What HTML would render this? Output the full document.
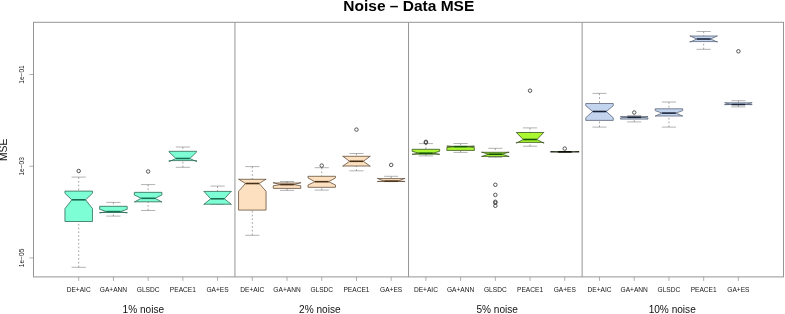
<!DOCTYPE html><html><head><meta charset="utf-8"><title>Noise - Data MSE</title>
<style>html,body{margin:0;padding:0;background:#fff;width:785px;height:314px;overflow:hidden}svg{display:block}text{font-family:"Liberation Sans",Arial,sans-serif}</style></head><body>
<svg width="785" height="314" viewBox="0 0 785 314">
<style>.wh{stroke:#7a7a7a;stroke-width:0.7;stroke-dasharray:1.7 2.1}.st{stroke:#8a8a8a;stroke-width:0.65}.ol{fill:none;stroke:#3a3a3a;stroke-width:0.85}.fr{stroke:#959595;stroke-width:1;fill:none}.tk{stroke:#9a9a9a;stroke-width:0.8}.lb{fill:#151515}</style>
<rect width="785" height="314" fill="#fff"/>
<text x="408.8" y="11.15" font-size="15.5" font-weight="bold" text-anchor="middle" fill="#000">Noise – Data MSE</text>
<text transform="translate(6.9,149.9) rotate(-90)" font-size="10.3" text-anchor="middle" fill="#111">MSE</text>
<line x1="78.7" y1="177.1" x2="78.7" y2="191.1" class="wh"/><line x1="78.7" y1="267.3" x2="78.7" y2="221.5" class="wh"/><line x1="71.6" y1="177.1" x2="85.8" y2="177.1" class="st"/><line x1="71.6" y1="267.3" x2="85.8" y2="267.3" class="st"/><polygon points="64.95,221.5 92.45,221.5 92.45,208.6 85.58,199.8 92.45,193.3 92.45,191.1 64.95,191.1 64.95,193.3 71.83,199.8 64.95,208.6" fill="#7efed4" stroke="#2f6a56" stroke-width="0.8" stroke-linejoin="miter"/><line x1="71.83" y1="199.8" x2="85.58" y2="199.8" stroke="#1a6e50" stroke-width="1.6"/><circle cx="78.7" cy="171" r="1.75" class="ol"/>
<line x1="113.42" y1="202.4" x2="113.42" y2="206.3" class="wh"/><line x1="113.42" y1="216.1" x2="113.42" y2="212.5" class="wh"/><line x1="106.32" y1="202.4" x2="120.52" y2="202.4" class="st"/><line x1="106.32" y1="216.1" x2="120.52" y2="216.1" class="st"/><polygon points="99.67,212.5 127.17,212.5 127.17,213 120.3,211.6 127.17,209.3 127.17,206.3 99.67,206.3 99.67,209.3 106.55,211.6 99.67,213" fill="#7efed4" stroke="#2f6a56" stroke-width="0.8" stroke-linejoin="miter"/><line x1="106.55" y1="211.6" x2="120.3" y2="211.6" stroke="#1a6e50" stroke-width="1.6"/>
<line x1="148.14" y1="184.6" x2="148.14" y2="192.35" class="wh"/><line x1="148.14" y1="210.5" x2="148.14" y2="201.8" class="wh"/><line x1="141.04" y1="184.6" x2="155.24" y2="184.6" class="st"/><line x1="141.04" y1="210.5" x2="155.24" y2="210.5" class="st"/><polygon points="134.39,201.8 161.89,201.8 161.89,202 155.01,198.3 161.89,195 161.89,192.35 134.39,192.35 134.39,195 141.26,198.3 134.39,202" fill="#7efed4" stroke="#2f6a56" stroke-width="0.8" stroke-linejoin="miter"/><line x1="141.26" y1="198.3" x2="155.01" y2="198.3" stroke="#1a6e50" stroke-width="1.6"/><circle cx="148.14" cy="171.5" r="1.75" class="ol"/>
<line x1="182.86" y1="147" x2="182.86" y2="151.3" class="wh"/><line x1="182.86" y1="167.3" x2="182.86" y2="160.6" class="wh"/><line x1="175.76" y1="147" x2="189.96" y2="147" class="st"/><line x1="175.76" y1="167.3" x2="189.96" y2="167.3" class="st"/><polygon points="169.11,160.6 196.61,160.6 196.61,161.6 189.74,158.5 196.61,152.1 196.61,151.3 169.11,151.3 169.11,152.1 175.99,158.5 169.11,161.6" fill="#7efed4" stroke="#2f6a56" stroke-width="0.8" stroke-linejoin="miter"/><line x1="175.99" y1="158.5" x2="189.74" y2="158.5" stroke="#1a6e50" stroke-width="1.6"/>
<line x1="217.58" y1="186.1" x2="217.58" y2="191.4" class="wh"/><line x1="210.48" y1="186.1" x2="224.68" y2="186.1" class="st"/><line x1="210.48" y1="204.2" x2="224.68" y2="204.2" class="st"/><polygon points="203.83,204.2 231.33,204.2 231.33,204.4 224.45,198.8 231.33,191.2 231.33,191.4 203.83,191.4 203.83,191.2 210.7,198.8 203.83,204.4" fill="#7efed4" stroke="#2f6a56" stroke-width="0.8" stroke-linejoin="miter"/><line x1="210.7" y1="198.8" x2="224.45" y2="198.8" stroke="#1a6e50" stroke-width="1.6"/>
<line x1="252.3" y1="166.6" x2="252.3" y2="179.3" class="wh"/><line x1="252.3" y1="235.3" x2="252.3" y2="210.1" class="wh"/><line x1="245.2" y1="166.6" x2="259.4" y2="166.6" class="st"/><line x1="245.2" y1="235.3" x2="259.4" y2="235.3" class="st"/><polygon points="238.55,210.1 266.05,210.1 266.05,191.3 259.18,183.5 266.05,179.1 266.05,179.3 238.55,179.3 238.55,179.1 245.43,183.5 238.55,191.3" fill="#fde0bf" stroke="#64503c" stroke-width="0.8" stroke-linejoin="miter"/><line x1="245.43" y1="183.5" x2="259.18" y2="183.5" stroke="#4a3018" stroke-width="1.6"/>
<line x1="287.02" y1="181.5" x2="287.02" y2="183" class="wh"/><line x1="287.02" y1="190.4" x2="287.02" y2="188.4" class="wh"/><line x1="279.92" y1="181.5" x2="294.12" y2="181.5" class="st"/><line x1="279.92" y1="190.4" x2="294.12" y2="190.4" class="st"/><polygon points="273.27,188.4 300.77,188.4 300.77,185.8 293.89,184.6 300.77,182.6 300.77,183 273.27,183 273.27,182.6 280.14,184.6 273.27,185.8" fill="#fde0bf" stroke="#64503c" stroke-width="0.8" stroke-linejoin="miter"/><line x1="280.14" y1="184.6" x2="293.89" y2="184.6" stroke="#4a3018" stroke-width="1.6"/>
<line x1="321.74" y1="167.7" x2="321.74" y2="176.3" class="wh"/><line x1="321.74" y1="190.1" x2="321.74" y2="187.3" class="wh"/><line x1="314.64" y1="167.7" x2="328.84" y2="167.7" class="st"/><line x1="314.64" y1="190.1" x2="328.84" y2="190.1" class="st"/><polygon points="307.99,187.3 335.49,187.3 335.49,185 328.62,181.7 335.49,177.9 335.49,176.3 307.99,176.3 307.99,177.9 314.87,181.7 307.99,185" fill="#fde0bf" stroke="#64503c" stroke-width="0.8" stroke-linejoin="miter"/><line x1="314.87" y1="181.7" x2="328.62" y2="181.7" stroke="#4a3018" stroke-width="1.6"/><circle cx="321.74" cy="165.6" r="1.75" class="ol"/>
<line x1="356.46" y1="153.5" x2="356.46" y2="156.3" class="wh"/><line x1="356.46" y1="170.8" x2="356.46" y2="166" class="wh"/><line x1="349.36" y1="153.5" x2="363.56" y2="153.5" class="st"/><line x1="349.36" y1="170.8" x2="363.56" y2="170.8" class="st"/><polygon points="342.71,166 370.21,166 370.21,166.2 363.33,161.3 370.21,156.2 370.21,156.3 342.71,156.3 342.71,156.2 349.58,161.3 342.71,166.2" fill="#fde0bf" stroke="#64503c" stroke-width="0.8" stroke-linejoin="miter"/><line x1="349.58" y1="161.3" x2="363.33" y2="161.3" stroke="#4a3018" stroke-width="1.6"/><circle cx="356.46" cy="129.6" r="1.75" class="ol"/>
<line x1="391.18" y1="176.3" x2="391.18" y2="178.6" class="wh"/><line x1="391.18" y1="181.6" x2="391.18" y2="181.4" class="wh"/><line x1="384.08" y1="176.3" x2="398.28" y2="176.3" class="st"/><line x1="384.08" y1="181.6" x2="398.28" y2="181.6" class="st"/><polygon points="377.43,181.4 404.93,181.4 404.93,181.6 398.06,181.1 404.93,178.3 404.93,178.6 377.43,178.6 377.43,178.3 384.31,181.1 377.43,181.6" fill="#fde0bf" stroke="#64503c" stroke-width="0.8" stroke-linejoin="miter"/><line x1="384.31" y1="181.1" x2="398.06" y2="181.1" stroke="#4a3018" stroke-width="1.6"/><circle cx="391.18" cy="164.9" r="1.75" class="ol"/>
<line x1="425.9" y1="143.6" x2="425.9" y2="149.3" class="wh"/><line x1="425.9" y1="155.9" x2="425.9" y2="154.2" class="wh"/><line x1="418.8" y1="143.6" x2="433" y2="143.6" class="st"/><line x1="418.8" y1="155.9" x2="433" y2="155.9" class="st"/><polygon points="412.15,154.2 439.65,154.2 439.65,154.4 432.77,153.2 439.65,151.3 439.65,149.3 412.15,149.3 412.15,151.3 419.02,153.2 412.15,154.4" fill="#abf832" stroke="#3a5620" stroke-width="0.8" stroke-linejoin="miter"/><line x1="419.02" y1="153.2" x2="432.77" y2="153.2" stroke="#12520a" stroke-width="1.6"/><circle cx="425.9" cy="141.8" r="1.75" class="ol"/><circle cx="425.9" cy="142.6" r="1.75" class="ol"/>
<line x1="460.62" y1="143.5" x2="460.62" y2="146.3" class="wh"/><line x1="460.62" y1="152.4" x2="460.62" y2="150.4" class="wh"/><line x1="453.52" y1="143.5" x2="467.72" y2="143.5" class="st"/><line x1="453.52" y1="152.4" x2="467.72" y2="152.4" class="st"/><polygon points="446.87,150.4 474.37,150.4 474.37,147.6 467.49,146.7 474.37,146 474.37,146.3 446.87,146.3 446.87,146 453.74,146.7 446.87,147.6" fill="#abf832" stroke="#3a5620" stroke-width="0.8" stroke-linejoin="miter"/><line x1="453.74" y1="146.7" x2="467.49" y2="146.7" stroke="#12520a" stroke-width="1.6"/>
<line x1="495.34" y1="148.3" x2="495.34" y2="152.3" class="wh"/><line x1="495.34" y1="157.3" x2="495.34" y2="156.4" class="wh"/><line x1="488.24" y1="148.3" x2="502.44" y2="148.3" class="st"/><line x1="488.24" y1="157.3" x2="502.44" y2="157.3" class="st"/><polygon points="481.59,156.4 509.09,156.4 509.09,156.6 502.21,154.2 509.09,152.1 509.09,152.3 481.59,152.3 481.59,152.1 488.46,154.2 481.59,156.6" fill="#abf832" stroke="#3a5620" stroke-width="0.8" stroke-linejoin="miter"/><line x1="488.46" y1="154.2" x2="502.21" y2="154.2" stroke="#12520a" stroke-width="1.6"/><circle cx="495.34" cy="184.8" r="1.75" class="ol"/><circle cx="495.34" cy="194.9" r="1.75" class="ol"/><circle cx="495.34" cy="201.8" r="1.75" class="ol"/><circle cx="495.34" cy="202.8" r="1.75" class="ol"/><circle cx="495.34" cy="205.8" r="1.75" class="ol"/>
<line x1="530.06" y1="127.9" x2="530.06" y2="132.5" class="wh"/><line x1="530.06" y1="146.2" x2="530.06" y2="142.4" class="wh"/><line x1="522.96" y1="127.9" x2="537.16" y2="127.9" class="st"/><line x1="522.96" y1="146.2" x2="537.16" y2="146.2" class="st"/><polygon points="516.31,142.4 543.81,142.4 543.81,143.2 536.94,139.5 543.81,132.4 543.81,132.5 516.31,132.5 516.31,132.4 523.19,139.5 516.31,143.2" fill="#abf832" stroke="#3a5620" stroke-width="0.8" stroke-linejoin="miter"/><line x1="523.19" y1="139.5" x2="536.94" y2="139.5" stroke="#12520a" stroke-width="1.6"/><circle cx="530.06" cy="90.7" r="1.75" class="ol"/>
<line x1="557.68" y1="151.8" x2="571.88" y2="151.8" class="st"/><line x1="557.68" y1="151.8" x2="571.88" y2="151.8" class="st"/><polygon points="551.03,151.8 578.53,151.8 578.53,151.9 571.65,151.8 578.53,151.7 578.53,151.8 551.03,151.8 551.03,151.7 557.9,151.8 551.03,151.9" fill="#abf832" stroke="#1e2a14" stroke-width="1.3" stroke-linejoin="miter"/><line x1="557.9" y1="151.8" x2="571.65" y2="151.8" stroke="#0a0f05" stroke-width="1.6"/><circle cx="564.78" cy="148.6" r="1.75" class="ol"/>
<line x1="599.5" y1="93.4" x2="599.5" y2="103.5" class="wh"/><line x1="599.5" y1="127.1" x2="599.5" y2="120.4" class="wh"/><line x1="592.4" y1="93.4" x2="606.6" y2="93.4" class="st"/><line x1="592.4" y1="127.1" x2="606.6" y2="127.1" class="st"/><polygon points="585.75,120.4 613.25,120.4 613.25,117.8 606.38,111.5 613.25,105.7 613.25,103.5 585.75,103.5 585.75,105.7 592.62,111.5 585.75,117.8" fill="#c2d4ee" stroke="#5d677a" stroke-width="0.8" stroke-linejoin="miter"/><line x1="592.62" y1="111.5" x2="606.38" y2="111.5" stroke="#1a2236" stroke-width="1.6"/>
<line x1="634.22" y1="115.6" x2="634.22" y2="116.7" class="wh"/><line x1="634.22" y1="121.9" x2="634.22" y2="119.1" class="wh"/><line x1="627.12" y1="115.6" x2="641.32" y2="115.6" class="st"/><line x1="627.12" y1="121.9" x2="641.32" y2="121.9" class="st"/><polygon points="620.47,119.1 647.97,119.1 647.97,117.9 641.1,117.3 647.97,116.5 647.97,116.7 620.47,116.7 620.47,116.5 627.35,117.3 620.47,117.9" fill="#c2d4ee" stroke="#5d677a" stroke-width="0.8" stroke-linejoin="miter"/><line x1="627.35" y1="117.3" x2="641.1" y2="117.3" stroke="#1a2236" stroke-width="1.6"/><circle cx="634.22" cy="112.5" r="1.75" class="ol"/>
<line x1="668.94" y1="102" x2="668.94" y2="108.8" class="wh"/><line x1="668.94" y1="127.1" x2="668.94" y2="116" class="wh"/><line x1="661.84" y1="102" x2="676.04" y2="102" class="st"/><line x1="661.84" y1="127.1" x2="676.04" y2="127.1" class="st"/><polygon points="655.19,116 682.69,116 682.69,116.1 675.82,113.1 682.69,110.6 682.69,108.8 655.19,108.8 655.19,110.6 662.07,113.1 655.19,116.1" fill="#c2d4ee" stroke="#5d677a" stroke-width="0.8" stroke-linejoin="miter"/><line x1="662.07" y1="113.1" x2="675.82" y2="113.1" stroke="#1a2236" stroke-width="1.6"/>
<line x1="703.66" y1="31.5" x2="703.66" y2="36" class="wh"/><line x1="703.66" y1="49.3" x2="703.66" y2="41.6" class="wh"/><line x1="696.56" y1="31.5" x2="710.76" y2="31.5" class="st"/><line x1="696.56" y1="49.3" x2="710.76" y2="49.3" class="st"/><polygon points="689.91,41.6 717.41,41.6 717.41,42.1 710.54,39 717.41,35.9 717.41,36 689.91,36 689.91,35.9 696.79,39 689.91,42.1" fill="#c2d4ee" stroke="#5d677a" stroke-width="0.8" stroke-linejoin="miter"/><line x1="696.79" y1="39" x2="710.54" y2="39" stroke="#1a2236" stroke-width="1.6"/>
<line x1="738.38" y1="100.7" x2="738.38" y2="102.8" class="wh"/><line x1="738.38" y1="106.9" x2="738.38" y2="104.5" class="wh"/><line x1="731.28" y1="100.7" x2="745.48" y2="100.7" class="st"/><line x1="731.28" y1="106.9" x2="745.48" y2="106.9" class="st"/><polygon points="724.63,104.5 752.13,104.5 752.13,104.7 745.25,104.5 752.13,102.7 752.13,102.8 724.63,102.8 724.63,102.7 731.5,104.5 724.63,104.7" fill="#c2d4ee" stroke="#5d677a" stroke-width="0.8" stroke-linejoin="miter"/><line x1="731.5" y1="104.5" x2="745.25" y2="104.5" stroke="#1a2236" stroke-width="1.6"/><circle cx="738.38" cy="51.3" r="1.75" class="ol"/>
<line x1="234.94" y1="22.3" x2="234.94" y2="276.9" class="fr"/>
<line x1="408.54" y1="22.3" x2="408.54" y2="276.9" class="fr"/>
<line x1="582.14" y1="22.3" x2="582.14" y2="276.9" class="fr"/>
<rect x="33.5" y="22.3" width="750" height="254.6" fill="none" class="fr"/>
<line x1="78.7" y1="276.9" x2="78.7" y2="280.9" class="tk"/>
<text x="78.7" y="292.1" font-size="6.6" text-anchor="middle" class="lb">DE+AIC</text>
<line x1="113.42" y1="276.9" x2="113.42" y2="280.9" class="tk"/>
<text x="113.42" y="292.1" font-size="6.6" text-anchor="middle" class="lb">GA+ANN</text>
<line x1="148.14" y1="276.9" x2="148.14" y2="280.9" class="tk"/>
<text x="148.14" y="292.1" font-size="6.6" text-anchor="middle" class="lb">GLSDC</text>
<line x1="182.86" y1="276.9" x2="182.86" y2="280.9" class="tk"/>
<text x="182.86" y="292.1" font-size="6.6" text-anchor="middle" class="lb">PEACE1</text>
<line x1="217.58" y1="276.9" x2="217.58" y2="280.9" class="tk"/>
<text x="217.58" y="292.1" font-size="6.6" text-anchor="middle" class="lb">GA+ES</text>
<line x1="252.3" y1="276.9" x2="252.3" y2="280.9" class="tk"/>
<text x="252.3" y="292.1" font-size="6.6" text-anchor="middle" class="lb">DE+AIC</text>
<line x1="287.02" y1="276.9" x2="287.02" y2="280.9" class="tk"/>
<text x="287.02" y="292.1" font-size="6.6" text-anchor="middle" class="lb">GA+ANN</text>
<line x1="321.74" y1="276.9" x2="321.74" y2="280.9" class="tk"/>
<text x="321.74" y="292.1" font-size="6.6" text-anchor="middle" class="lb">GLSDC</text>
<line x1="356.46" y1="276.9" x2="356.46" y2="280.9" class="tk"/>
<text x="356.46" y="292.1" font-size="6.6" text-anchor="middle" class="lb">PEACE1</text>
<line x1="391.18" y1="276.9" x2="391.18" y2="280.9" class="tk"/>
<text x="391.18" y="292.1" font-size="6.6" text-anchor="middle" class="lb">GA+ES</text>
<line x1="425.9" y1="276.9" x2="425.9" y2="280.9" class="tk"/>
<text x="425.9" y="292.1" font-size="6.6" text-anchor="middle" class="lb">DE+AIC</text>
<line x1="460.62" y1="276.9" x2="460.62" y2="280.9" class="tk"/>
<text x="460.62" y="292.1" font-size="6.6" text-anchor="middle" class="lb">GA+ANN</text>
<line x1="495.34" y1="276.9" x2="495.34" y2="280.9" class="tk"/>
<text x="495.34" y="292.1" font-size="6.6" text-anchor="middle" class="lb">GLSDC</text>
<line x1="530.06" y1="276.9" x2="530.06" y2="280.9" class="tk"/>
<text x="530.06" y="292.1" font-size="6.6" text-anchor="middle" class="lb">PEACE1</text>
<line x1="564.78" y1="276.9" x2="564.78" y2="280.9" class="tk"/>
<text x="564.78" y="292.1" font-size="6.6" text-anchor="middle" class="lb">GA+ES</text>
<line x1="599.5" y1="276.9" x2="599.5" y2="280.9" class="tk"/>
<text x="599.5" y="292.1" font-size="6.6" text-anchor="middle" class="lb">DE+AIC</text>
<line x1="634.22" y1="276.9" x2="634.22" y2="280.9" class="tk"/>
<text x="634.22" y="292.1" font-size="6.6" text-anchor="middle" class="lb">GA+ANN</text>
<line x1="668.94" y1="276.9" x2="668.94" y2="280.9" class="tk"/>
<text x="668.94" y="292.1" font-size="6.6" text-anchor="middle" class="lb">GLSDC</text>
<line x1="703.66" y1="276.9" x2="703.66" y2="280.9" class="tk"/>
<text x="703.66" y="292.1" font-size="6.6" text-anchor="middle" class="lb">PEACE1</text>
<line x1="738.38" y1="276.9" x2="738.38" y2="280.9" class="tk"/>
<text x="738.38" y="292.1" font-size="6.6" text-anchor="middle" class="lb">GA+ES</text>
<line x1="29.5" y1="74.5" x2="33.5" y2="74.5" class="tk"/>
<text transform="translate(23.9,74.5) rotate(-90)" font-size="6.6" text-anchor="middle" class="lb">1e−01</text>
<line x1="29.5" y1="166.3" x2="33.5" y2="166.3" class="tk"/>
<text transform="translate(23.9,166.3) rotate(-90)" font-size="6.6" text-anchor="middle" class="lb">1e−03</text>
<line x1="29.5" y1="257.9" x2="33.5" y2="257.9" class="tk"/>
<text transform="translate(23.9,257.9) rotate(-90)" font-size="6.6" text-anchor="middle" class="lb">1e−05</text>
<text x="143.35" y="312.8" font-size="10.1" text-anchor="middle" fill="#111">1% noise</text>
<text x="319.8" y="312.8" font-size="10.1" text-anchor="middle" fill="#111">2% noise</text>
<text x="497.2" y="312.8" font-size="10.1" text-anchor="middle" fill="#111">5% noise</text>
<text x="672.2" y="312.8" font-size="10.1" text-anchor="middle" fill="#111">10% noise</text>
</svg>
</body></html>
